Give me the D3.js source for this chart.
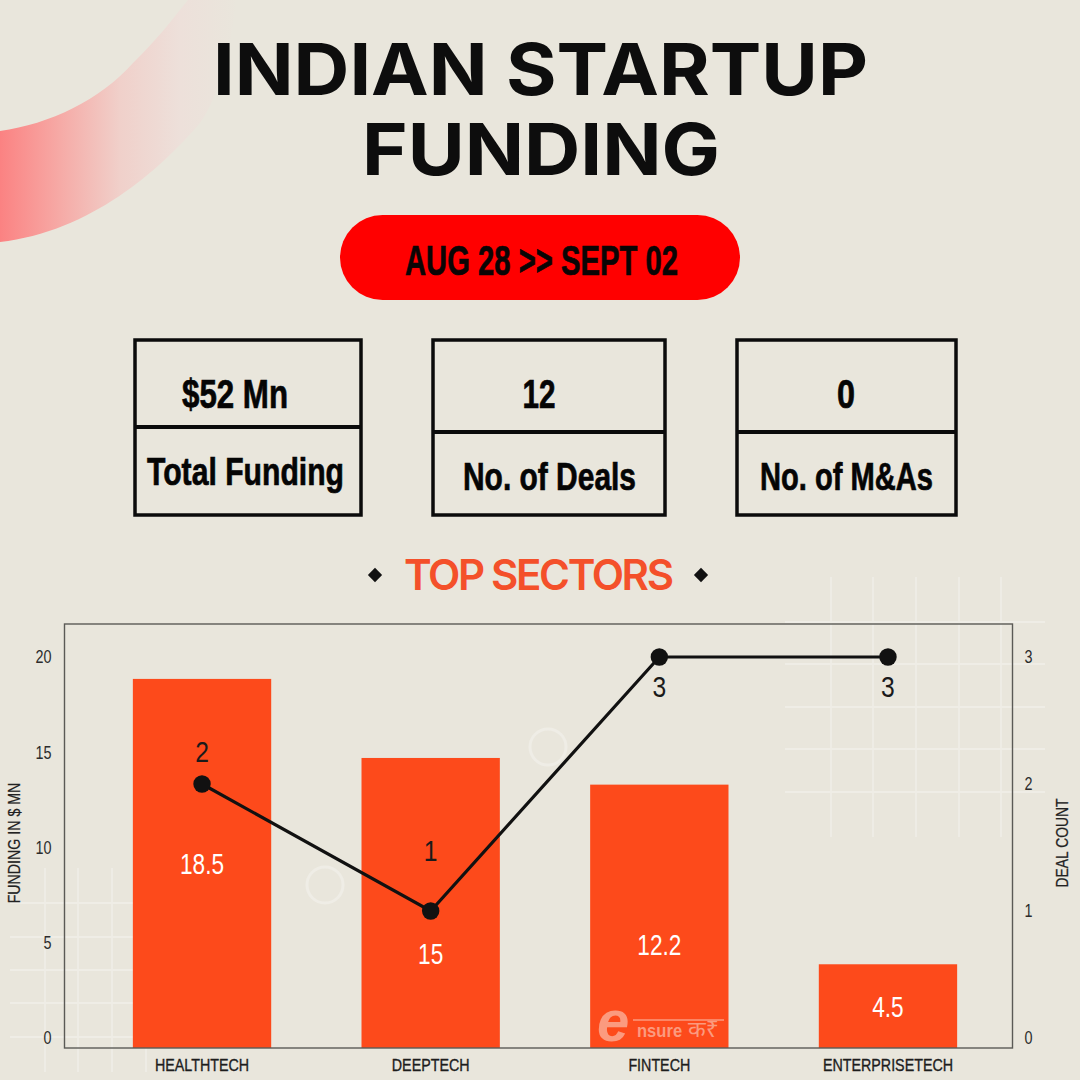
<!DOCTYPE html>
<html><head><meta charset="utf-8">
<style>html,body{margin:0;padding:0;background:#e9e6dc}svg{display:block}</style>
<script src="https://cdn.jsdelivr.net/npm/d3@7"></script>
</head><body><svg id="c" width="1080" height="1080"></svg>
<script>
// ---- data ----
const titleLines = ["INDIAN STARTUP", "FUNDING"];
const dateRange = "AUG 28 >> SEPT 02";
const kpiValues = ["$52 Mn", "12", "0"];
const kpiLabels = ["Total Funding", "No. of Deals", "No. of M&As"];
const sectionTitle = "TOP SECTORS";
const categories = ["HEALTHTECH", "DEEPTECH", "FINTECH", "ENTERPRISETECH"];
const barHeights = [18.85, 14.7, 13.3, 3.87];      // as drawn, against the left axis
const fundingLabels = ["18.5", "15", "12.2", "4.5"]; // as printed
const dealCounts = [2, 1, 3, 3];
const fundingTicks = [0, 5, 10, 15, 20];
const dealTicks = [0, 1, 2, 3];
const leftAxisTitle = "FUNDING IN $ MN";
const rightAxisTitle = "DEAL COUNT";

// ---- layout ----
const sans = "'Liberation Sans',sans-serif";
const svg = d3.select("#c");
const defs = svg.append("defs");
const grad = defs.append("linearGradient").attr("id", "sw").attr("gradientUnits", "userSpaceOnUse")
  .attr("x1", 0).attr("x2", 240).attr("y1", 0).attr("y2", 0);
[[0, "#fb8282"], [.25, "#f6aaa6"], [.5, "#f0d0ca"], [.75, "#ede0da"], [1, "#e9e6dc"]]
  .forEach(s => grad.append("stop").attr("offset", s[0]).attr("stop-color", s[1]));

// squeeze a text to a share of its natural width (no condensed face is installed)
const squeeze = (sel, k) => sel.each(function () {
  this.setAttribute("textLength", this.getComputedTextLength() * k);
  this.setAttribute("lengthAdjust", "spacingAndGlyphs");
});
const fit = (sel, len) => sel.attr("textLength", len).attr("lengthAdjust", "spacingAndGlyphs");

svg.append("rect").attr("width", 1080).attr("height", 1080).attr("fill", "#e9e6dc");
svg.append("path").attr("fill", "url(#sw)")
  .attr("d", "M0,131 C50,124 100,100 133,63 C155,42 172,20 188,0 L236,0 C232,40 222,92 200,123 C160,170 90,232 0,242 Z");

// faint decoration behind the chart
const deco = svg.append("g").attr("stroke", "#efede6").attr("stroke-width", 1.8).attr("fill", "none");
[831, 873, 916, 959, 1001].forEach(x => deco.append("line").attr("x1", x).attr("x2", x).attr("y1", 577).attr("y2", 837));
[622, 664, 707, 749, 792].forEach(y => deco.append("line").attr("x1", 785).attr("x2", 1045).attr("y1", y).attr("y2", y));
[45, 78, 112, 146].forEach(x => deco.append("line").attr("x1", x).attr("x2", x).attr("y1", 868).attr("y2", 1072));
[903, 937, 970, 1003, 1037].forEach(y => deco.append("line").attr("x1", 10).attr("x2", 180).attr("y1", y).attr("y2", y));
[[325, 885], [548, 747]].forEach(c => deco.append("circle").attr("cx", c[0]).attr("cy", c[1]).attr("r", 18).attr("stroke-width", 3));

// title
const tg = svg.append("g").attr("font-family", "Inter,'Liberation Sans',sans-serif").attr("font-weight", 700)
  .attr("font-size", 72).attr("fill", "#0d0d0d");
fit(tg.append("text").attr("x", 213).attr("y", 95).text(titleLines[0]), 655);
fit(tg.append("text").attr("x", 362).attr("y", 175).text(titleLines[1]), 358);

// date pill
svg.append("rect").attr("x", 340).attr("y", 215).attr("width", 400).attr("height", 85).attr("rx", 42.5).attr("fill", "#ff0000");
fit(svg.append("text").attr("x", 405).attr("y", 275).attr("font-family", sans).attr("font-weight", 700)
  .attr("font-size", 43).attr("fill", "#0a0505").attr("stroke", "#0a0505").attr("stroke-width", .7).text(dateRange), 273);

// KPI boxes
const boxes = [
  {x: 135, w: 226, div: 427, vx: 235, vy: 408, lx: 147, lw: 197, ly: 485, vw: 106},
  {x: 433, w: 232, div: 432, vx: 539, vy: 408, lx: 463, lw: 173, ly: 490, vw: 33},
  {x: 737, w: 219, div: 432, vx: 846, vy: 408, lx: 760, lw: 173, ly: 490, vw: 18}
];
const kg = svg.append("g");
boxes.forEach((b, i) => {
  kg.append("rect").attr("x", b.x).attr("y", 340).attr("width", b.w).attr("height", 175)
    .attr("fill", "none").attr("stroke", "#0b0b0b").attr("stroke-width", 3.5);
  kg.append("line").attr("x1", b.x).attr("x2", b.x + b.w).attr("y1", b.div).attr("y2", b.div)
    .attr("stroke", "#0b0b0b").attr("stroke-width", 4);
  fit(kg.append("text").attr("x", b.vx).attr("y", b.vy).attr("text-anchor", "middle").attr("font-family", sans)
    .attr("font-weight", 700).attr("font-size", 41).attr("fill", "#050505").attr("stroke", "#050505").attr("stroke-width", .7)
    .text(kpiValues[i]), b.vw);
  fit(kg.append("text").attr("x", b.lx).attr("y", b.ly).attr("font-family", sans)
    .attr("font-weight", 700).attr("font-size", 39).attr("fill", "#050505").attr("stroke", "#050505").attr("stroke-width", .7)
    .text(kpiLabels[i]), b.lw);
});

// section heading
svg.append("text").attr("x", 404).attr("y", 590).attr("font-family", "Inter,'Liberation Sans',sans-serif")
  .attr("font-weight", 600).attr("font-size", 42).attr("fill", "#f4502a")
  .attr("textLength", 270).attr("lengthAdjust", "spacing").text(sectionTitle);
[375, 701].forEach(x => svg.append("path")
  .attr("d", d3.symbol(d3.symbolDiamond2 || d3.symbolDiamond, 130)).attr("transform", `translate(${x},575)`).attr("fill", "#111"));

// chart
const frame = {l: 64.5, r: 1012.5, t: 624, b: 1048};
const x = d3.scaleBand().domain(categories).range([87.7, 1002.3]).paddingInner(.395).paddingOuter(.1975);
const y = d3.scaleLinear().domain([0, 20]).range([1038, 657]);
const y2 = d3.scaleLinear().domain([0, 3]).range([1038, 657]);
const cx = d => x(d) + x.bandwidth() / 2;

svg.append("g").selectAll("rect").data(categories).join("rect")
  .attr("x", d => x(d)).attr("width", x.bandwidth())
  .attr("y", (d, i) => y(barHeights[i]))
  .attr("height", (d, i) => frame.b - y(barHeights[i]))
  .attr("fill", "#fd4a1b");

// watermark sits on the third bar
const wm = svg.append("g").attr("fill", "#fb9a7f").attr("font-family", sans);
wm.append("text").attr("x", 597).attr("y", 1041).attr("font-weight", 700).attr("font-style", "italic")
  .attr("font-size", 58).text("e");
wm.append("line").attr("x1", 633).attr("x2", 724).attr("y1", 1020).attr("y2", 1020).attr("stroke", "#fb9a7f").attr("stroke-width", 1.4);
wm.append("text").attr("x", 637).attr("y", 1037).attr("font-weight", 700).attr("font-size", 18).text("nsure").call(squeeze, .92);
wm.append("text").attr("x", 688).attr("y", 1037).attr("font-family", "'Noto Sans',sans-serif")
  .attr("font-size", 23).text("क₹");

svg.append("rect").attr("x", frame.l).attr("y", frame.t).attr("width", frame.r - frame.l).attr("height", frame.b - frame.t)
  .attr("fill", "none").attr("stroke", "#5b5a56").attr("stroke-width", 1.4);

// axes
const styleAxis = (g, k, size) => {
  g.select(".domain").remove();
  g.selectAll("text").attr("font-family", sans).attr("font-size", size).attr("fill", "#2c2c2c").call(squeeze, k);
};
svg.append("g").attr("transform", "translate(64.5,0)")
  .call(d3.axisLeft(y).tickValues(fundingTicks).tickFormat(d3.format("d")).tickSize(0).tickPadding(13)).call(styleAxis, .8, 18);
svg.append("g").attr("transform", "translate(1012.5,0)")
  .call(d3.axisRight(y2).tickValues(dealTicks).tickFormat(d3.format("d")).tickSize(0).tickPadding(12)).call(styleAxis, .8, 18);
svg.append("g").attr("transform", `translate(0,${frame.b})`)
  .call(d3.axisBottom(x).tickSize(0).tickPadding(11)).call(styleAxis, .84, 17)
  .selectAll("text").attr("fill", "#1d1d1d").attr("stroke", "#1d1d1d").attr("stroke-width", .35);
const axisTitle = (label, px, k) => svg.append("text").attr("transform", `translate(${px},843) rotate(-90)`)
  .attr("text-anchor", "middle").attr("font-family", sans).attr("font-size", 16.5).attr("fill", "#222")
  .attr("stroke", "#222").attr("stroke-width", .25).text(label).call(squeeze, k);
axisTitle(leftAxisTitle, 20, .86);
axisTitle(rightAxisTitle, 1068, .84);

// funding labels (vertical placement follows the picture)
const fundingLabelBase = [874, 964, 955, 1017];
svg.append("g").selectAll("text").data(categories).join("text")
  .attr("x", cx).attr("y", (d, i) => fundingLabelBase[i])
  .attr("text-anchor", "middle").attr("font-family", sans).attr("font-size", 29).attr("fill", "#fff")
  .text((d, i) => fundingLabels[i]).call(squeeze, .78);

// line series
svg.append("path").datum(categories).attr("fill", "none").attr("stroke", "#111").attr("stroke-width", 3.2)
  .attr("d", d3.line().x(cx).y((d, i) => y2(dealCounts[i])));
svg.append("g").selectAll("circle").data(categories).join("circle")
  .attr("cx", cx).attr("cy", (d, i) => y2(dealCounts[i])).attr("r", 8.7).attr("fill", "#111");
const dealLabelDy = [-22, -50, 40, 40];
svg.append("g").selectAll("text").data(categories).join("text")
  .attr("x", cx).attr("y", (d, i) => y2(dealCounts[i]) + dealLabelDy[i])
  .attr("text-anchor", "middle").attr("font-family", sans).attr("font-size", 29).attr("fill", "#1a1a1a")
  .text((d, i) => dealCounts[i]).call(squeeze, .85);
</script></body></html>
